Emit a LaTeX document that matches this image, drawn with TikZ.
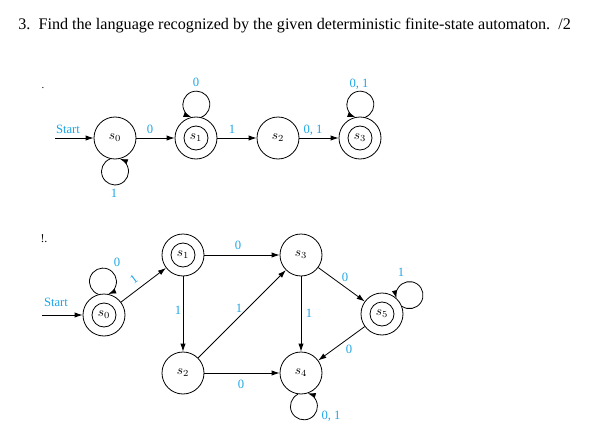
\documentclass[tikz,border=0pt]{standalone}
\usepackage{fontspec}
\setmainfont{Liberation Serif}
\usetikzlibrary{arrows.meta}
\definecolor{lblblue}{RGB}{30,165,230}
\tikzset{every picture/.style={line width=0.6pt}}
\tikzset{
  fsm/.style={draw, circle, minimum size=31.5pt, inner sep=0pt},
  accept/.style={fsm, path picture={\draw (path picture bounding box.center) circle[radius=9pt];}},
  lbl/.style={text=lblblue, inner sep=0.75pt, font=\fontsize{9.5}{11}\selectfont},
  tr/.style={-{Latex[length=6pt,width=4pt]}},
}

\begin{document}
\begin{tikzpicture}[x=0.75pt,y=0.75pt,yscale=-1,xscale=1]
\useasboundingbox (0,0) rectangle (590,439);

% Title
\node (title) [anchor=west, inner sep=0pt, font=\fontsize{12.1}{14}\selectfont] at (18,26) {3.\ \ Find the language recognized by the given deterministic finite-state automaton.\ \ /2};
\node (markA) [inner sep=0pt, font=\fontsize{8}{9}\selectfont] at (43,88) {.};
\node (markB) [inner sep=0pt, font=\fontsize{9}{10}\selectfont] at (44,239) {!.};

%% first automaton
\node (a0) [fsm] at (115,138) {$s_{0}$};
\node (a1) [accept] at (196,138) {$s_{1}$};
\node (a2) [fsm] at (278,138) {$s_{2}$};
\node (a3) [accept] at (360,138) {$s_{3}$};
\coordinate (aStart) at (55,138);

\draw [tr] (aStart) -- (a0);
\draw [tr] (a0) -- (a1);
\draw [tr] (a1) -- (a2);
\draw [tr] (a2) -- (a3);
% loops
\draw [tr] (a0.-103.5) arc[start angle=249, end angle=-69, radius=13.5];
\draw [tr] (a1.76.5) arc[start angle=69, end angle=-249, radius=13.5];
\draw [tr] (a3.76.5) arc[start angle=69, end angle=-249, radius=13.5];

% Text Node
\node (aStartLbl) [lbl] at (68,129) {Start};
\node (a01) [lbl] at (150,129) {0};
\node (a12) [lbl] at (232,129) {1};
\node (a23) [lbl] at (313,130) {0, 1};
\node (a00) [lbl] at (114,193) {1};
\node (a11) [lbl] at (196,82) {0};
\node (a33) [lbl] at (359,84) {0, 1};

%% second automaton
\node (b0) [accept] at (104,315) {$s_{0}$};
\node (b1) [accept] at (183,255) {$s_{1}$};
\node (b2) [fsm] at (183,373) {$s_{2}$};
\node (b3) [fsm] at (301,255) {$s_{3}$};
\node (b4) [fsm] at (301,373) {$s_{4}$};
\node (b5) [accept] at (382,314) {$s_{5}$};
\coordinate (bStart) at (42,315);

\draw [tr] (bStart) -- (b0);
\draw [tr] (b0) -- (b1);
\draw [tr] (b1) -- (b3);
\draw [tr] (b1) -- (b2);
\draw [tr] (b2) -- (b3);
\draw [tr] (b2) -- (b4);
\draw [tr] (b3) -- (b4);
\draw [tr] (b3) -- (b5);
\draw [tr] (b5) -- (b4);
% loops
\draw [tr] (b0.105) arc[start angle=-250.5, end angle=67.5, radius=13.5];
\draw [tr] (b5.21.5) arc[start angle=124, end angle=-194, radius=13.5];
\draw [tr] (b4.-98.5) arc[start angle=244, end angle=-74, radius=13.5];

% Text Node
\node (bStartLbl) [lbl] at (56,302) {Start};
\node (b00) [lbl] at (117,262) {0};
\node (b01) [lbl, rotate=37] at (134,279) {1};
\node (b13) [lbl] at (238,245) {0};
\node (b12) [lbl] at (178,310) {1};
\node (b23) [lbl] at (239,308) {1};
\node (b34) [lbl] at (309,313) {1};
\node (b35) [lbl] at (345,277) {0};
\node (b54) [lbl] at (349,349) {0};
\node (b24) [lbl] at (241,384) {0};
\node (b55) [lbl] at (401,272) {1};
\node (b44) [lbl] at (331,416) {0, 1};

\end{tikzpicture}
\end{document}
